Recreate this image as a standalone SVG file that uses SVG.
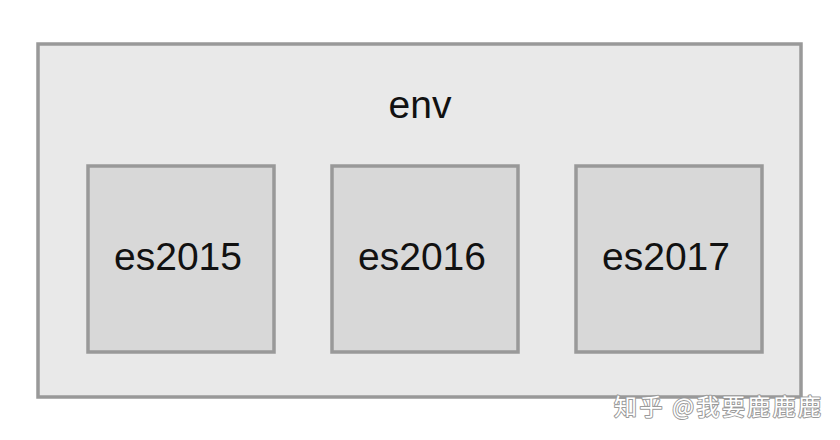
<svg xmlns="http://www.w3.org/2000/svg" width="840" height="440" viewBox="0 0 840 440">
<style>
.outer{fill:#e9e9e9;stroke:#999999;stroke-width:3.5}
.inner{fill:#d8d8d8;stroke:#999999;stroke-width:3.5}
.lbl{font-family:"Liberation Sans",Arial,sans-serif;font-size:39px;fill:#111111;text-anchor:middle}
.wm{font-family:"Noto Sans CJK SC","Liberation Sans",sans-serif;font-size:23px;letter-spacing:2.4px;fill:#ffffff;stroke:#9a9a9a;stroke-width:2;paint-order:stroke;stroke-linejoin:round}
</style>
<rect width="840" height="440" fill="#ffffff"/>
<g id="env">
<rect class="outer" x="38" y="44" width="763" height="353"/>
<text class="lbl" x="420" y="118">env</text>
</g>
<g id="es2015">
<rect class="inner" x="88" y="166" width="186" height="186"/>
<text class="lbl" x="178" y="270">es2015</text>
</g>
<g id="es2016">
<rect class="inner" x="332" y="166" width="186" height="186"/>
<text class="lbl" x="422" y="270">es2016</text>
</g>
<g id="es2017">
<rect class="inner" x="576" y="166" width="186" height="186"/>
<text class="lbl" x="666" y="270">es2017</text>
</g>
<g id="connectors"></g>
<text class="wm" x="614" y="415">知乎 @我要鹿鹿鹿</text>
</svg>
